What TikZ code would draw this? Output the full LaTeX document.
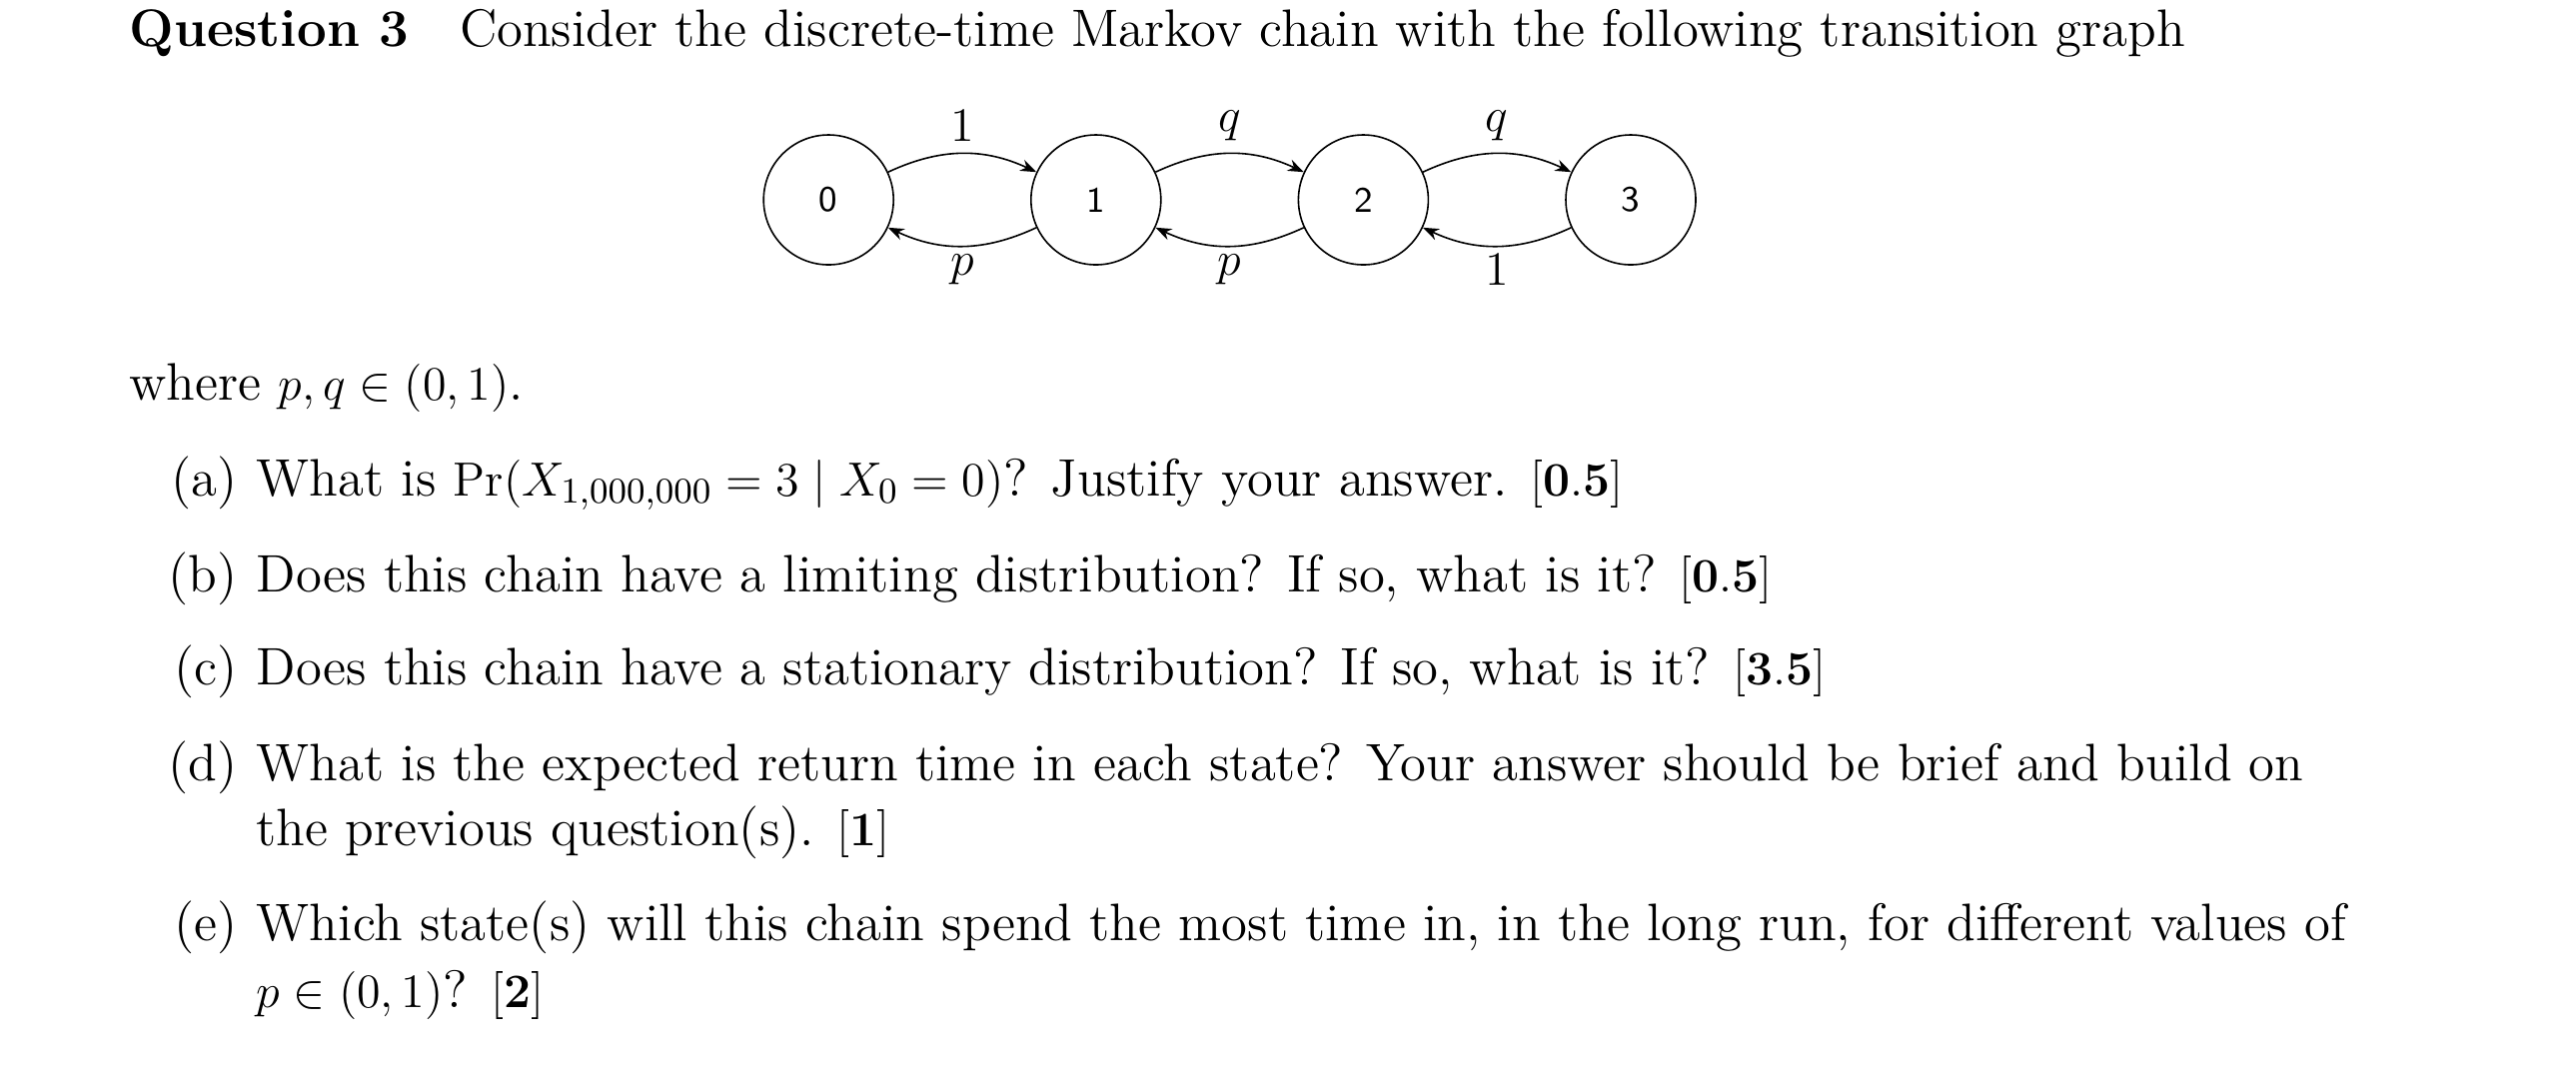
\documentclass[tikz,border=0pt]{standalone}
\usepackage{amsmath}
\usetikzlibrary{arrows.meta}
\begin{document}
\begin{tikzpicture}[x=1pt,y=1pt,
  state/.style={draw,circle,minimum size=32.5pt,inner sep=0pt,font=\sffamily\small},
  edge/.style={-{Stealth[length=4pt,width=3pt]},thin},
  txt/.style={anchor=base west,inner sep=0pt,font=\fontsize{13.2}{15}\selectfont},
  lbl/.style={anchor=base east,inner sep=0pt,font=\fontsize{13.2}{15}\selectfont},
  elab/.style={font=\fontsize{13}{15}\selectfont,inner sep=0pt}]
\useasboundingbox (0,0) rectangle (644.5,-268.5);
\node[txt] (t1) at (32.2,-11.6) {\textbf{Question 3}};
\node[txt] (t2) at (114.8,-11.6) {Consider the discrete-time Markov chain with the following transition graph};
\node[state] (s0) at (207.3,-50) {0};
\node[state] (s1) at (274.2,-50) {1};
\node[state] (s2) at (341.1,-50) {2};
\node[state] (s3) at (408.0,-50) {3};
\draw[edge] (s0) to[bend left=25] (s1);
\draw[edge] (s1) to[bend left=25] (s0);
\draw[edge] (s1) to[bend left=25] (s2);
\draw[edge] (s2) to[bend left=25] (s1);
\draw[edge] (s2) to[bend left=25] (s3);
\draw[edge] (s3) to[bend left=25] (s2);
\node[elab] (l1) at (240.7,-31.4) {$1$};
\node[elab] (l2) at (307.6,-31.4) {$q$};
\node[elab] (l3) at (374.5,-31.4) {$q$};
\node[elab] (l4) at (240.7,-67.5) {$p$};
\node[elab] (l5) at (307.6,-67.5) {$p$};
\node[elab] (l6) at (374.5,-67.5) {$1$};
\node[txt] (w) at (32.2,-100) {where $p,q\in(0,1)$.};
\node[lbl] (a) at (59.5,-124) {(a)};
\node[txt] (at) at (64,-124) {What is $\Pr(X_{1{,}000{,}000}=3\mid X_0=0)$? Justify your answer. $[\mathbf{0.5}]$};
\node[lbl] (b) at (59.5,-148) {(b)};
\node[txt] (bt) at (64,-148) {Does this chain have a limiting distribution? If so, what is it? $[\mathbf{0.5}]$};
\node[lbl] (c) at (59.5,-171.4) {(c)};
\node[txt] (ct) at (64,-171.4) {Does this chain have a stationary distribution? If so, what is it? $[\mathbf{3.5}]$};
\node[lbl] (d) at (59.5,-195.3) {(d)};
\node[txt] (dt) at (64,-195.3) {What is the expected return time in each state? Your answer should be brief and build on};
\node[txt] (dt2) at (64,-211.5) {the previous question(s). $[\mathbf{1}]$};
\node[lbl] (e) at (59.5,-235.4) {(e)};
\node[txt] (et) at (64,-235.4) {Which state(s) will this chain spend the most time in, in the long run, for different values of};
\node[txt] (et2) at (64,-252) {$p\in(0,1)$? $[\mathbf{2}]$};
\end{tikzpicture}
\end{document}
